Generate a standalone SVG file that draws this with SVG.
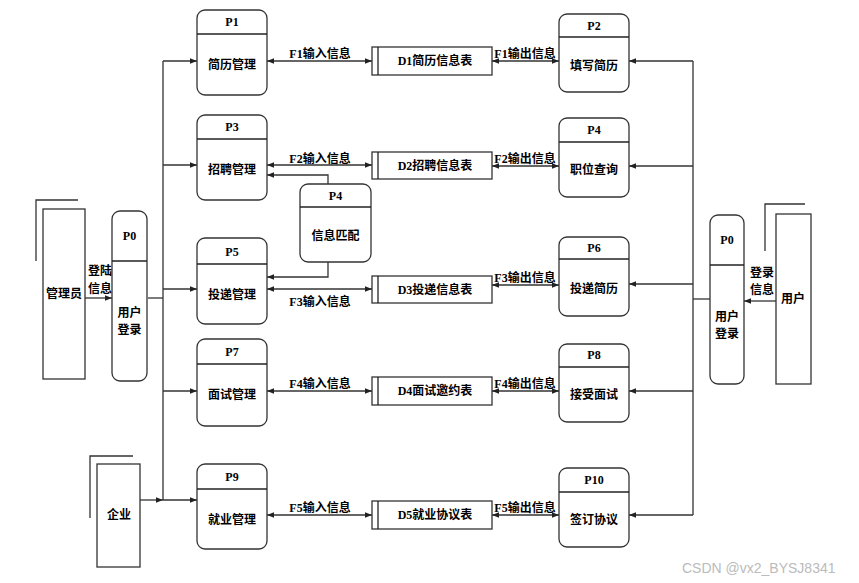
<svg xmlns="http://www.w3.org/2000/svg" width="859" height="583" viewBox="0 0 859 583">
<defs>
<marker id="ah" viewBox="0 0 10 10" refX="10" refY="5" markerWidth="7" markerHeight="7" orient="auto-start-reverse" markerUnits="userSpaceOnUse">
<path d="M0,1 L10,5 L0,9 z" fill="#222"/>
</marker>
<style>
.box{fill:#fff;stroke:#333;stroke-width:1.3}
.hd{stroke:#222;stroke-width:1.3}
.ln{fill:none;stroke:#333;stroke-width:1.3}
.t{font-family:"Liberation Serif","Noto Sans CJK SC",serif;font-weight:bold;font-size:12px;fill:#000;text-anchor:middle;dominant-baseline:central}
.wm{font-family:"Liberation Sans","Noto Sans",sans-serif;font-size:14px;fill:#bbb}
</style>
</defs>
<rect width="859" height="583" fill="#fff"/>

<g id="connectors">
<!-- left bus -->
<path class="ln" d="M163,61 V500"/>
<path class="ln" d="M148,298 H163"/>
<path class="ln" d="M163,61 H197" marker-end="url(#ah)"/>
<path class="ln" d="M163,165 H197" marker-end="url(#ah)"/>
<path class="ln" d="M163,289 H197" marker-end="url(#ah)"/>
<path class="ln" d="M163,391 H197" marker-end="url(#ah)"/>
<path class="ln" d="M140,500 H163" marker-end="url(#ah)"/>
<path class="ln" d="M163,500 H197" marker-end="url(#ah)"/>
<path class="ln" d="M85,298 H112" marker-end="url(#ah)"/>
<!-- right bus -->
<path class="ln" d="M693,61 V515"/>
<path class="ln" d="M710,299 H693"/>
<path class="ln" d="M693,61 H629" marker-end="url(#ah)"/>
<path class="ln" d="M693,166 H629" marker-end="url(#ah)"/>
<path class="ln" d="M693,284 H629" marker-end="url(#ah)"/>
<path class="ln" d="M693,391 H629" marker-end="url(#ah)"/>
<path class="ln" d="M693,515 H629" marker-end="url(#ah)"/>
<path class="ln" d="M776,301 H744" marker-end="url(#ah)"/>
<!-- process <-> store -->
<path class="ln" d="M267,61 H372" marker-start="url(#ah)" marker-end="url(#ah)"/>
<path class="ln" d="M492,61 H559" marker-start="url(#ah)" marker-end="url(#ah)"/>
<path class="ln" d="M267,165 H372" marker-start="url(#ah)" marker-end="url(#ah)"/>
<path class="ln" d="M492,166 H559" marker-start="url(#ah)" marker-end="url(#ah)"/>
<path class="ln" d="M267,289 H372" marker-start="url(#ah)" marker-end="url(#ah)"/>
<path class="ln" d="M492,285 H559" marker-start="url(#ah)" marker-end="url(#ah)"/>
<path class="ln" d="M267,391 H372" marker-start="url(#ah)" marker-end="url(#ah)"/>
<path class="ln" d="M492,391 H559" marker-start="url(#ah)" marker-end="url(#ah)"/>
<path class="ln" d="M267,515 H372" marker-start="url(#ah)" marker-end="url(#ah)"/>
<path class="ln" d="M492,515 H559" marker-start="url(#ah)" marker-end="url(#ah)"/>
<!-- P4 match -->
<path class="ln" d="M328,184 V175 H267" marker-end="url(#ah)"/>
<path class="ln" d="M328,262 V277 H267" marker-end="url(#ah)"/>
<!-- labels -->
<text class="t" x="320" y="54">F1输入信息</text>
<text class="t" x="525" y="54">F1输出信息</text>
<text class="t" x="320" y="159">F2输入信息</text>
<text class="t" x="525" y="159">F2输出信息</text>
<text class="t" x="320" y="302">F3输入信息</text>
<text class="t" x="525" y="278">F3输出信息</text>
<text class="t" x="320" y="384">F4输入信息</text>
<text class="t" x="525" y="384">F4输出信息</text>
<text class="t" x="320" y="508">F5输入信息</text>
<text class="t" x="525" y="508">F5输出信息</text>
<text class="t" x="100" y="271">登陆</text>
<text class="t" x="100" y="289">信息</text>
<text class="t" x="762" y="273">登录</text>
<text class="t" x="762" y="290">信息</text>
</g>

<g id="admin">
<path class="ln" d="M36,261 V200 H78"/>
<rect class="box" x="43" y="209" width="42" height="170"/>
<text class="t" x="64" y="294">管理员</text>
</g>
<g id="company">
<path class="ln" d="M90,518 V456 H133"/>
<rect class="box" x="97" y="464" width="43" height="103"/>
<text class="t" x="119" y="515">企业</text>
</g>
<g id="user">
<path class="ln" d="M765,251 V204 H805"/>
<rect class="box" x="776" y="214" width="35" height="170"/>
<text class="t" x="793" y="299">用户</text>
</g>

<g id="P0L">
<rect class="box" x="112" y="211" width="35" height="170" rx="8"/>
<line class="hd" x1="112" y1="261" x2="147" y2="261" stroke-width="2"/>
<text class="t" x="129.5" y="236">P0</text>
<text class="t" x="129.5" y="313">用户</text>
<text class="t" x="129.5" y="330">登录</text>
</g>
<g id="P0R">
<rect class="box" x="710" y="215" width="34" height="169" rx="8"/>
<line class="hd" x1="710" y1="265" x2="744" y2="265" stroke-width="2"/>
<text class="t" x="727" y="240">P0</text>
<text class="t" x="727" y="317">用户</text>
<text class="t" x="727" y="334">登录</text>
</g>

<g id="P1">
<rect class="box" x="197" y="10" width="70" height="85" rx="8"/>
<line class="hd" x1="197" y1="34" x2="267" y2="34"/>
<text class="t" x="232" y="22">P1</text>
<text class="t" x="232" y="65">简历管理</text>
</g>
<g id="P3">
<rect class="box" x="197" y="115" width="70" height="85" rx="8"/>
<line class="hd" x1="197" y1="139" x2="267" y2="139"/>
<text class="t" x="232" y="127">P3</text>
<text class="t" x="232" y="170">招聘管理</text>
</g>
<g id="P5">
<rect class="box" x="197" y="238" width="70" height="86" rx="8"/>
<line class="hd" x1="197" y1="264" x2="267" y2="264"/>
<text class="t" x="232" y="252">P5</text>
<text class="t" x="232" y="295">投递管理</text>
</g>
<g id="P7">
<rect class="box" x="197" y="339" width="70" height="87" rx="8"/>
<line class="hd" x1="197" y1="364" x2="267" y2="364"/>
<text class="t" x="232" y="352">P7</text>
<text class="t" x="232" y="395">面试管理</text>
</g>
<g id="P9">
<rect class="box" x="197" y="464" width="70" height="85" rx="8"/>
<line class="hd" x1="197" y1="489" x2="267" y2="489"/>
<text class="t" x="232" y="477">P9</text>
<text class="t" x="232" y="520">就业管理</text>
</g>
<g id="P4M">
<rect class="box" x="300" y="184" width="71" height="78" rx="8"/>
<line class="hd" x1="300" y1="207" x2="371" y2="207"/>
<text class="t" x="335.5" y="196">P4</text>
<text class="t" x="335.5" y="236">信息匹配</text>
</g>

<g id="P2">
<rect class="box" x="559" y="14" width="70" height="78" rx="8"/>
<line class="hd" x1="559" y1="37" x2="629" y2="37"/>
<text class="t" x="594" y="26">P2</text>
<text class="t" x="594" y="66">填写简历</text>
</g>
<g id="P4">
<rect class="box" x="559" y="118" width="70" height="79" rx="8"/>
<line class="hd" x1="559" y1="142" x2="629" y2="142"/>
<text class="t" x="594" y="130">P4</text>
<text class="t" x="594" y="170">职位查询</text>
</g>
<g id="P6">
<rect class="box" x="559" y="237" width="70" height="79" rx="8"/>
<line class="hd" x1="559" y1="259" x2="629" y2="259"/>
<text class="t" x="594" y="248">P6</text>
<text class="t" x="594" y="289">投递简历</text>
</g>
<g id="P8">
<rect class="box" x="559" y="344" width="70" height="78" rx="8"/>
<line class="hd" x1="559" y1="367" x2="629" y2="367"/>
<text class="t" x="594" y="355">P8</text>
<text class="t" x="594" y="395">接受面试</text>
</g>
<g id="P10">
<rect class="box" x="559" y="468" width="70" height="79" rx="8"/>
<line class="hd" x1="559" y1="492" x2="629" y2="492"/>
<text class="t" x="594" y="480">P10</text>
<text class="t" x="594" y="520">签订协议</text>
</g>

<g id="D1">
<rect class="box" x="372" y="47" width="120" height="28"/>
<line class="hd" x1="378" y1="47" x2="378" y2="75"/>
<text class="t" x="435" y="61">D1简历信息表</text>
</g>
<g id="D2">
<rect class="box" x="372" y="152" width="120" height="27"/>
<line class="hd" x1="378" y1="152" x2="378" y2="179"/>
<text class="t" x="435" y="166">D2招聘信息表</text>
</g>
<g id="D3">
<rect class="box" x="372" y="276" width="120" height="27"/>
<line class="hd" x1="378" y1="276" x2="378" y2="303"/>
<text class="t" x="435" y="290">D3投递信息表</text>
</g>
<g id="D4">
<rect class="box" x="372" y="377" width="120" height="28"/>
<line class="hd" x1="378" y1="377" x2="378" y2="405"/>
<text class="t" x="435" y="391">D4面试邀约表</text>
</g>
<g id="D5">
<rect class="box" x="372" y="501" width="120" height="28"/>
<line class="hd" x1="378" y1="501" x2="378" y2="529"/>
<text class="t" x="435" y="515">D5就业协议表</text>
</g>

<text class="wm" x="682" y="573">CSDN @vx2_BYSJ8341</text>
</svg>
